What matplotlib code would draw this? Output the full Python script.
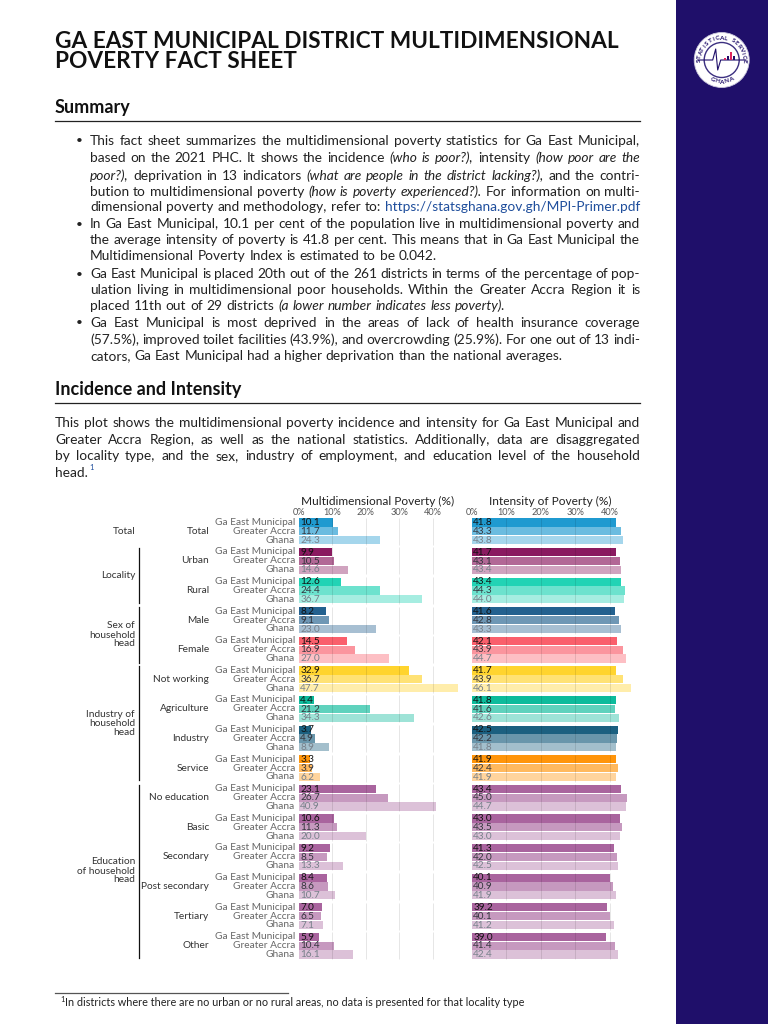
#!/usr/bin/env python
import numpy as np
import matplotlib
matplotlib.use("Agg")
import matplotlib.pyplot as plt
from matplotlib.patches import Circle, Rectangle

plt.rcParams['font.family'] = ['Lato', 'DejaVu Sans']

areas = ["Ga East Municipal", "Greater Accra", "Ghana"]
groups = ["Total", "Urban", "Rural", "Male", "Female", "Not working", "Agriculture", "Industry",
          "Service", "No education", "Basic", "Secondary", "Post secondary", "Tertiary", "Other"]
mpi_district = [10.1, 9.9, 12.6, 8.2, 14.5, 32.9, 4.4, 3.7, 3.3, 23.1, 10.6, 9.2, 8.4, 7.0, 5.9]
mpi_region = [11.7, 10.5, 24.4, 9.1, 16.9, 36.7, 21.2, 4.9, 3.9, 26.7, 11.3, 8.5, 8.6, 6.5, 10.4]
mpi_ghana = [24.3, 14.6, 36.7, 23.0, 27.0, 47.7, 34.3, 8.9, 6.2, 40.9, 20.0, 13.3, 10.7, 7.1, 16.1]
int_district = [41.8, 41.7, 43.4, 41.6, 42.1, 41.7, 41.8, 42.5, 41.9, 43.4, 43.0, 41.3, 40.1, 39.2, 39.0]
int_region = [43.3, 43.1, 44.3, 42.8, 43.9, 43.9, 41.6, 42.2, 42.4, 45.0, 43.5, 42.0, 40.9, 40.1, 41.4]
int_ghana = [43.8, 43.4, 44.0, 43.3, 44.7, 46.1, 42.6, 41.8, 41.9, 44.7, 43.0, 42.5, 41.9, 41.2, 42.4]
group_colors = ["#1f9ad0", "#8a1a60", "#22d3b5", "#23618f", "#fa5f6c", "#ffd42e", "#0dbb9c", "#1b6080",
                "#ff950a", "#a9649e", "#a9649e", "#a9649e", "#a9649e", "#a9649e", "#a9649e"]
ticks = [0, 10, 20, 30, 40]

NAVY = "#1f0f6a"
INK = "#222222"
LINK = "#1f4e9c"

summary_lines = [
    (90, 141, True, "This fact sheet summarizes the multidimensional poverty statistics for Ga East Municipal,"),
    (90, 158, True, "based on the 2021 PHC. It shows the incidence *(who is poor?)*, intensity *(how poor are the*"),
    (90, 176, True, "*poor?)*, deprivation in 13 indicators *(what are people in the district lacking?)*, and the contri-"),
    (90, 192, True, "bution to multidimensional poverty *(how is poverty experienced?)*. For information on multi-"),
    (90, 207, True, "dimensional poverty and methodology, refer to: @https://statsghana.gov.gh/MPI-Primer.pdf@"),
    (90, 224, True, "In Ga East Municipal, 10.1 per cent of the population live in multidimensional poverty and"),
    (90, 240, True, "the average intensity of poverty is 41.8 per cent. This means that in Ga East Municipal the"),
    (90, 256, False, "Multidimensional Poverty Index is estimated to be 0.042."),
    (90, 274, True, "Ga East Municipal is placed 20th out of the 261 districts in terms of the percentage of pop-"),
    (90, 290, True, "ulation living in multidimensional poor households. Within the Greater Accra Region it is"),
    (90, 306, False, "placed 11th out of 29 districts *(a lower number indicates less poverty)*."),
    (90, 323, True, "Ga East Municipal is most deprived in the areas of lack of health insurance coverage"),
    (90, 340, True, "(57.5%), improved toilet facilities (43.9%), and overcrowding (25.9%). For one out of 13 indi-"),
    (90, 356, False, "cators, Ga East Municipal had a higher deprivation than the national averages."),
    (55, 423, True, "This plot shows the multidimensional poverty incidence and intensity for Ga East Municipal and"),
    (55, 440, True, "Greater Accra Region, as well as the national statistics. Additionally, data are disaggregated"),
    (55, 456, True, "by locality type, and the sex, industry of employment, and education level of the household"),
    (55, 473, False, "head."),
]
bullet_rows = [141, 224, 274, 323]
RIGHT = 640


def put_line(page, renderer, x0, y, justify, line, size=9.9):
    # split into styled words, * toggles italic and @ toggles link colour
    words = []
    italic = False
    link = False
    for word in line.split(" "):
        word_i = italic or "*" in word
        word_l = link or "@" in word
        if word.count("*") % 2:
            italic = not italic
        if word.count("@") % 2:
            link = not link
        words.append((word.replace("*", "").replace("@", ""), word_i, word_l))
    arts = []
    for w, i, l in words:
        arts.append(page.text(x0, y, w, fontsize=size, va="center", ha="left",
                              style="italic" if i else "normal",
                              color=LINK if l else INK))
    widths = [a.get_window_extent(renderer).width for a in arts]
    space = 3.8
    if justify and len(arts) > 1:
        space = (RIGHT - x0 - sum(widths)) / (len(arts) - 1)
    x = x0
    for a, w in zip(arts, widths):
        a.set_x(x)
        x += w + space
    return x - space


def draw_logo(page, cx, cy):
    page.add_patch(Circle((cx, cy), 27.5, fc="white", ec="#c9c6dc", lw=0.6, zorder=3))
    page.add_patch(Circle((cx, cy), 17.5, fc="white", ec="#3b2f80", lw=1.0, zorder=4))
    for ch, ang in zip("STATISTICAL SERVICE", np.linspace(-92, 92, 19)):
        r = 22
        page.text(cx + r * np.sin(np.radians(ang)), cy - r * np.cos(np.radians(ang)), ch,
                  fontsize=4.6, fontweight="bold", color=NAVY, ha="center", va="center",
                  rotation=-ang, zorder=5)
    for ch, ang in zip("GHANA", np.linspace(-26, 26, 5)):
        r = 22
        page.text(cx + r * np.sin(np.radians(ang)), cy + r * np.cos(np.radians(ang)), ch,
                  fontsize=4.6, fontweight="bold", color=NAVY, ha="center", va="center",
                  rotation=ang, zorder=5)
    page.plot([cx - 24, cx - 9, cx - 6, cx - 4, cx - 1, cx + 1, cx + 24],
              [cy, cy, cy - 11, cy + 10, cy, cy, cy],
              color=NAVY, lw=0.8, zorder=5)
    for dx, h, c in [(2, 2, "#e0265e"), (5, 4, NAVY), (8, 8, "#e0265e"), (11, 4, NAVY)]:
        page.add_patch(Rectangle((cx + dx, cy - h), 2, h, fc=c, ec="none", zorder=5))


def draw_panel(fig, left_px, px_per_pct, width_px, series):
    top, bottom = 513, 960
    ax = fig.add_axes([left_px / 768, 1 - bottom / 1024, width_px / 768, (bottom - top) / 1024])
    ax.set_xlim(0, width_px / px_per_pct)
    ax.set_ylim(bottom, top)
    ax.patch.set_alpha(0)
    for s in ax.spines.values():
        s.set_visible(False)
    ax.xaxis.tick_top()
    ax.set_xticks(ticks)
    ax.set_xticklabels([f"{t}%" for t in ticks], fontsize=6.6, color="#555555")
    ax.set_yticks([])
    ax.tick_params(axis="x", length=0, pad=-3)
    for g, col in enumerate(group_colors):
        y0 = FIRST_ROW + g * GROUP_STEP
        for k, (vals, alpha, tcol) in enumerate(zip(series, ALPHAS, TEXT_COLORS)):
            y = y0 + k * BAR_STEP
            ax.barh(y, vals[g], height=8.2, color=col, alpha=alpha, lw=0)
            ax.text(0.4, y + 0.2, f"{vals[g]:.1f}", fontsize=7.2, color=tcol, va="center", ha="left", zorder=6)
        ax.vlines(ticks[1:], y0 - 4.6, y0 + 2 * BAR_STEP + 4.6, color="#000000", alpha=0.10, lw=0.7, zorder=5)
    return ax


FIRST_ROW = 522.4
GROUP_STEP = 29.6
BAR_STEP = 8.85
ALPHAS = [1.0, 0.66, 0.4]
TEXT_COLORS = ["#111111", "#33343c", "#77808a"]

fig = plt.figure(figsize=(7.68, 10.24), dpi=100, facecolor="white")
page = fig.add_axes([0, 0, 1, 1])
page.set_xlim(0, 768)
page.set_ylim(1024, 0)
page.axis("off")
renderer = fig.canvas.get_renderer()

# side band and logo
page.add_patch(Rectangle((676, 0), 92, 1024, fc=NAVY, ec="none", zorder=1))
draw_logo(page, 721.7, 60)

# title and headings
page.text(55, 42, "GA EAST MUNICIPAL DISTRICT MULTIDIMENSIONAL", fontsize=16.3, fontweight="bold",
          color="#111111", va="center")
page.text(55, 61, "POVERTY FACT SHEET", fontsize=16.3, fontweight="bold", color="#111111", va="center")
page.text(55, 107, "Summary", fontsize=13, fontweight="bold", color="#111111", va="center")
page.plot([55, 640], [121, 121], color="#222222", lw=0.9)
page.text(55, 389, "Incidence and Intensity", fontsize=13, fontweight="bold", color="#111111", va="center")
page.plot([55, 640], [403, 403], color="#222222", lw=0.9)

for y in bullet_rows:
    page.text(76, y, "\u2022", fontsize=8.5, color=INK, va="center", ha="left")
end_x = 0
for x0, y, justify, line in summary_lines:
    end_x = put_line(page, renderer, x0, y, justify, line)
page.text(end_x + 1, 467, "1", fontsize=5.5, color=LINK, va="center")

# chart headers
page.text(378, 501, "Multidimensional Poverty (%)", fontsize=8.6, color="#222222", ha="center", va="center")
page.text(550.5, 501, "Intensity of Poverty (%)", fontsize=8.6, color="#222222", ha="center", va="center")

draw_panel(fig, 299, 3.34, 165, [mpi_district, mpi_region, mpi_ghana])
draw_panel(fig, 471.7, 3.45, 165, [int_district, int_region, int_ghana])

# row labels
for g, name in enumerate(groups):
    y0 = FIRST_ROW + g * GROUP_STEP
    page.text(209, y0 + BAR_STEP, name, fontsize=7.3, color="#333333", ha="right", va="center")
    for k, area in enumerate(areas):
        page.text(295, y0 + k * BAR_STEP, area, fontsize=7.3, color="#666666", ha="right", va="center")

side_labels = ["Total", "Locality", "Sex of\nhousehold\nhead", "Industry of\nhousehold\nhead",
               "Education\nof household\nhead"]
side_rows = [531.5, 576, 635, 723.5, 871]
for label, y in zip(side_labels, side_rows):
    page.text(135, y, label, fontsize=7.3, color="#333333", ha="right", va="center", linespacing=1.0)
for y0, y1 in [(548, 603), (607, 662.7), (666, 780), (785, 958)]:
    page.plot([138.7, 138.7], [y0, y1], color="#111111", lw=0.9)

# footnote
page.plot([55, 288], [993, 993], color="#555555", lw=0.9)
page.text(60, 999, "1", fontsize=5.5, color=INK, va="center")
page.text(65, 1003, "In districts where there are no urban or no rural areas, no data is presented for that locality type",
          fontsize=7.8, color=INK, va="center")

fig.savefig("out.png", dpi=100)
